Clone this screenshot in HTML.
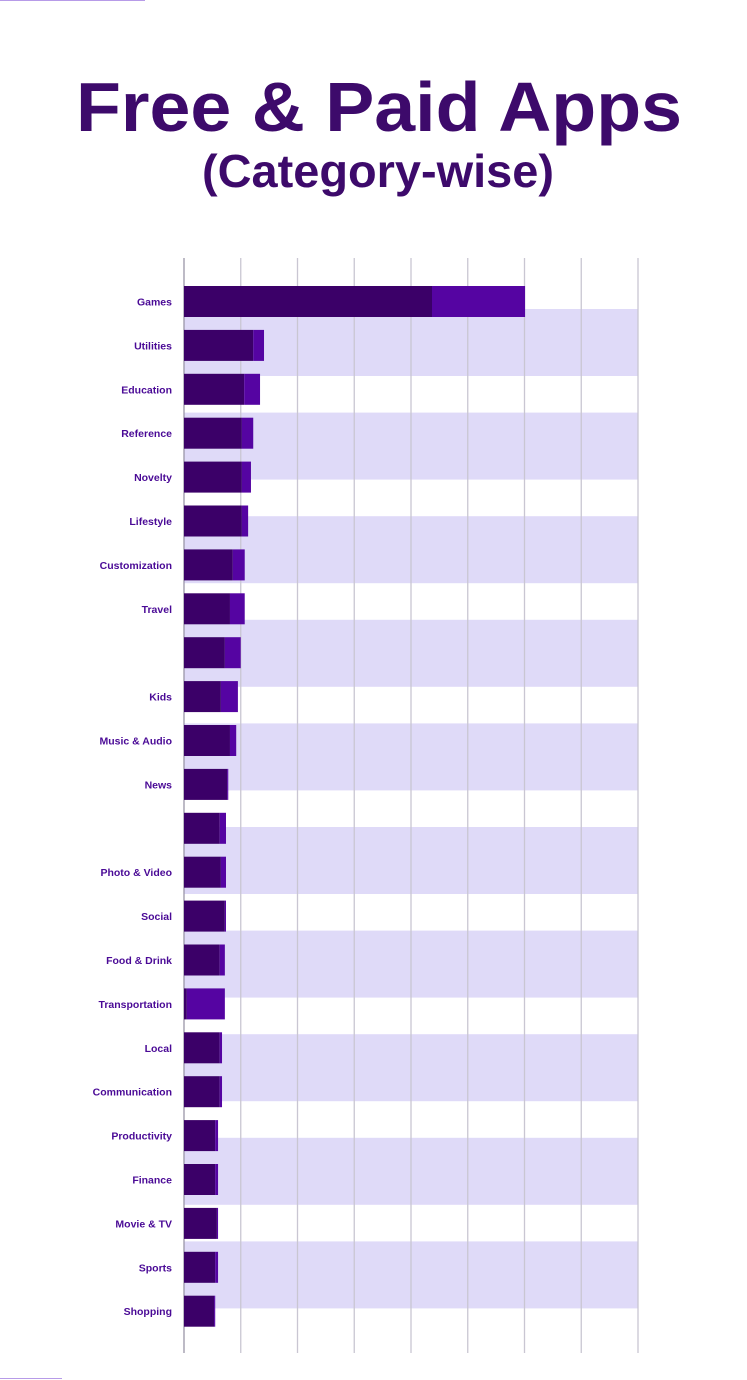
<!DOCTYPE html>
<html><head><meta charset="utf-8"><style>
html,body{margin:0;padding:0;background:#fff;}
svg{display:block;}
</style></head><body>
<svg id="chart" width="747" height="1380" viewBox="0 0 747 1380" xmlns="http://www.w3.org/2000/svg">
<rect width="747" height="1380" fill="#fff"/>
<line x1="0" y1="0.5" x2="145" y2="0.5" stroke="#b79be8" stroke-width="1"/>
<line x1="0" y1="1378.5" x2="62" y2="1378.5" stroke="#b79be8" stroke-width="1"/>
<text x="379" y="131" text-anchor="middle" font-family="Liberation Sans, sans-serif" font-weight="bold" font-size="70" fill="#3d0a6b" textLength="606" lengthAdjust="spacingAndGlyphs">Free &amp; Paid Apps</text>
<text x="378" y="187" text-anchor="middle" font-family="Liberation Sans, sans-serif" font-weight="bold" font-size="46" fill="#3d0a6b" textLength="352" lengthAdjust="spacingAndGlyphs">(Category-wise)</text>
<g id="bands"></g>
<g id="grid"></g>
<g id="bars"></g>
<g id="labels"></g>
</svg>
<script>
const categories = ["Games","Utilities","Education","Reference","Novelty","Lifestyle","Customization","Travel","","Kids","Music & Audio","News","","Photo & Video","Social","Food & Drink","Transportation","Local","Communication","Productivity","Finance","Movie & TV","Sports","Shopping"];
const freeValues = [4.37,1.22,1.06,1.02,1.02,1.02,0.86,0.81,0.72,0.65,0.81,0.76,0.63,0.65,0.72,0.63,0.05,0.63,0.63,0.55,0.55,0.58,0.55,0.53];
const paidValues = [1.64,0.19,0.28,0.20,0.16,0.11,0.21,0.26,0.28,0.30,0.11,0.02,0.11,0.09,0.02,0.09,0.67,0.04,0.04,0.05,0.05,0.02,0.05,0.02];
const gridTicks = [0,1,2,3,4,5,6,7,8];

const NS = "http://www.w3.org/2000/svg";
const x0 = 184, pxPerUnit = 56.75;
const xScale = v => x0 + v * pxPerUnit;
const rowTop = i => 286 + i * 43.9;
const barH = 31;
const bandsG = document.getElementById('bands');
const gridG = document.getElementById('grid');
const barsG = document.getElementById('bars');
const labelsG = document.getElementById('labels');
function mk(tag, attrs){const e=document.createElementNS(NS,tag);for(const k in attrs)e.setAttribute(k,attrs[k]);return e;}

for (let k = 0; k < 10; k++) {
  const b = mk('rect',{x:x0,y:309+k*103.6,width:xScale(8)-x0,height:67,fill:'#dfdaf8'});
  
  
  bandsG.appendChild(b);
}
gridTicks.forEach(t => {
  const l = mk('line',{x1:xScale(t),y1:258,x2:xScale(t),y2:1353,stroke:t===0?'#9a96a8':'#c9c6d2','stroke-width':1.3});
  
  
  gridG.appendChild(l);
});
categories.forEach((c, i) => {
  const y = rowTop(i);
  const f = mk('rect',{x:x0,y:y,width:xScale(freeValues[i])-x0,height:barH,fill:'#3b0068'});
  
  
  barsG.appendChild(f);
  const p = mk('rect',{x:xScale(freeValues[i]),y:y,width:xScale(freeValues[i]+paidValues[i])-xScale(freeValues[i]),height:barH,fill:'#5504a2'});
  
  
  barsG.appendChild(p);
  if (c) {
    const t = mk('text',{x:172,y:y+barH/2+4,'text-anchor':'end','font-family':'Liberation Sans, sans-serif','font-weight':'bold','font-size':10.5,fill:'#4a0a96'});
    t.textContent = c;
    
    
    labelsG.appendChild(t);
  }
});
</script>
</body></html>
